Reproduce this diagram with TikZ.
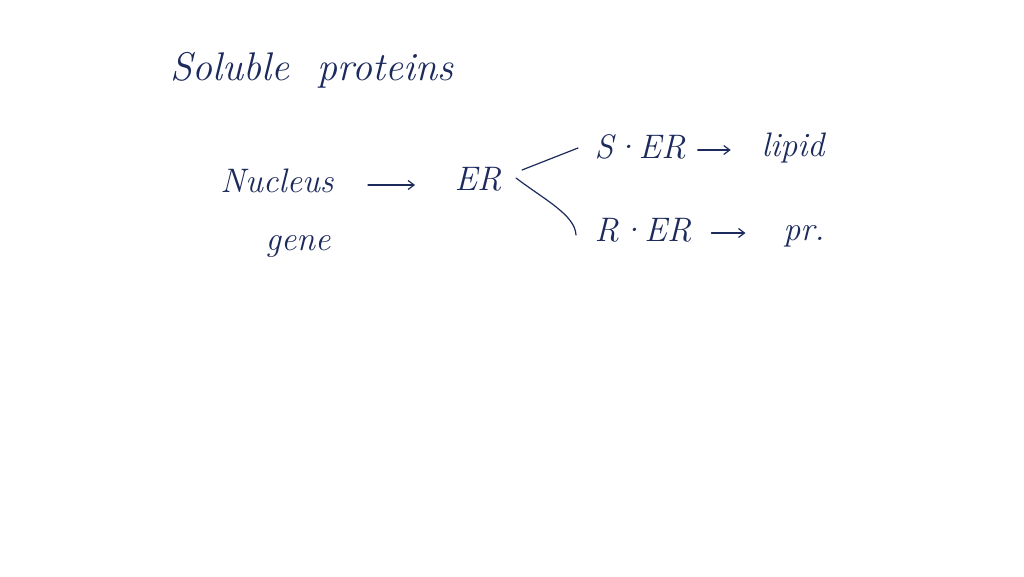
\documentclass[tikz,border=0pt]{standalone}
\usetikzlibrary{arrows.meta}
\definecolor{ink}{HTML}{1C2A5C}
\begin{document}
\begin{tikzpicture}[x=1pt,y=-1pt,
  hw/.style={text=ink,font=\fontsize{34}{38}\selectfont\itshape,inner sep=0pt,anchor=base},
  conn/.style={draw=ink,line width=1.2pt,line cap=round},
  arr/.style={conn,-{Straight Barb[length=6pt,width=9pt]}}]
\useasboundingbox[fill=white] (0,0) rectangle (1024,576);
\node[hw,font=\fontsize{40}{44}\selectfont\itshape] (title) at (312,80) {Soluble\hspace{28pt}proteins};
\node[hw] (nuc) at (277,192) {Nucleus};
\node[hw] (gene) at (298,250) {gene};
\node[hw] (er) at (478,190) {ER};
\node[hw] (ser) at (640,158) {S\textperiodcentered ER};
\node[hw] (lipid) at (793,156) {lipid};
\node[hw] (rer) at (643,241) {R\textperiodcentered ER};
\node[hw] (pr) at (804,240) {pr.};
\coordinate (nucE) at (368,185);
\coordinate (erW) at (415,185);
\coordinate (b1s) at (522,170);
\coordinate (b1e) at (578,148);
\coordinate (b2s) at (516,178);
\coordinate (b2e) at (576,235);
\draw[arr] (nucE) -- (erW);
\draw[conn] (b1s) -- (b1e);
\draw[conn] (b2s) .. controls (545,200) and (575,215) .. (b2e);
\draw[arr] ([xshift=12pt]ser.base east) ++(0,-8) -- ++(33,0);
\draw[arr] ([xshift=20pt]rer.base east) ++(0,-8) -- ++(34,0);
\end{tikzpicture}
\end{document}
